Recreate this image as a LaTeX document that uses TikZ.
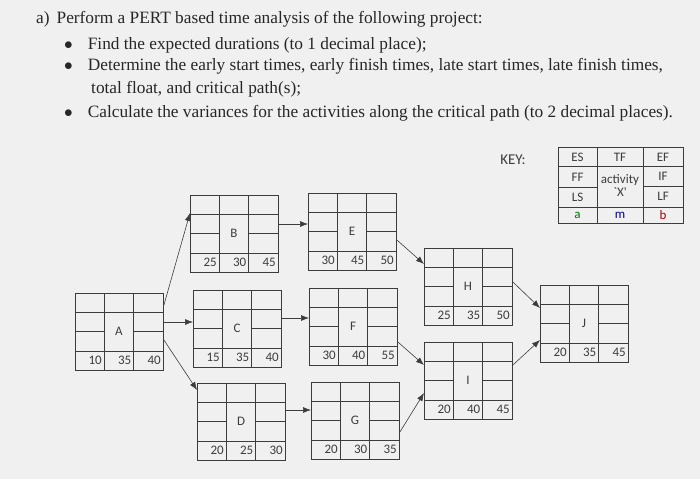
\documentclass[tikz,border=0pt]{standalone}
\usepackage{fontspec}
\setmainfont{Liberation Serif}
\newfontfamily\boxfont{Carlito}
\usetikzlibrary{arrows.meta}
\definecolor{ink}{RGB}{60,60,60}
\tikzset{
  actbox/.style={draw=ink,line width=0.9pt,rectangle,minimum width=88pt,minimum height=77pt,inner sep=0,anchor=north west},
  grid/.style={draw=ink,line width=0.9pt},
  num/.style={font=\boxfont\fontsize{13}{14}\selectfont,text=ink,anchor=east,inner sep=1pt},
  lbl/.style={font=\boxfont\fontsize{13}{14}\selectfont,text=ink,inner sep=0},
  conn/.style={draw=ink,line width=0.6pt,-{Latex[length=8pt,width=6pt]}},
  hdr/.style={anchor=west,font=\fontsize{17.3}{20}\selectfont,text=black!85,inner sep=0},
}
\newcommand\actbox[7]{%
  \node[actbox] (#1) at (#2,#3) {};
  \draw[grid] (#2,#3+19) -- (#2+88,#3+19);
  \draw[grid] (#2,#3+58) -- (#2+88,#3+58);
  \draw[grid] (#2,#3+38.5) -- (#2+29.3,#3+38.5);
  \draw[grid] (#2+58.7,#3+38.5) -- (#2+88,#3+38.5);
  \draw[grid] (#2+29.3,#3) -- (#2+29.3,#3+77);
  \draw[grid] (#2+58.7,#3) -- (#2+58.7,#3+77);
  \node[lbl] (#1l) at (#2+44,#3+38.5) {#4};
  \node[num] (#1a) at (#2+28,#3+67.5) {#5};
  \node[num] (#1m) at (#2+57.5,#3+67.5) {#6};
  \node[num] (#1b) at (#2+87,#3+67.5) {#7};
}
\begin{document}
\begin{tikzpicture}[x=1pt,y=-1pt]
\fill[black!6] (0,0) rectangle (700,479);
\useasboundingbox (0,0) rectangle (700,479);
% header
\node[hdr] (h0) at (36,19) {a)\hspace{7pt}Perform a PERT based time analysis of the following project:};
\node[hdr] (h1) at (64,45) {$\bullet$\hspace{15pt}Find the expected durations (to 1 decimal place);};
\node[hdr] (h2) at (64,66) {$\bullet$\hspace{15pt}Determine the early start times, early finish times, late start times, late finish times,};
\node[hdr] (h2b) at (91,89) {total float, and critical path(s);};
\node[hdr] (h3) at (64,113) {$\bullet$\hspace{15pt}Calculate the variances for the activities along the critical path (to 2 decimal places).};
% key
\node[font=\boxfont\fontsize{15}{17}\selectfont,text=ink] (key) at (513,160) {KEY:};
\node[draw=ink,line width=0.9pt,rectangle,minimum width=125pt,minimum height=76pt,inner sep=0,anchor=north west] (kb) at (558,147) {};
\draw[grid] (558,166) -- (683,166);
\draw[grid] (558,207) -- (683,207);
\draw[grid] (558,187) -- (597,187);
\draw[grid] (643,186) -- (683,186);
\draw[grid] (597,147) -- (597,223);
\draw[grid] (643,147) -- (643,223);
\tikzset{kt/.style={font=\boxfont\fontsize{13}{14}\selectfont,text=ink,inner sep=0}}
\node[kt] (kES) at (577.5,157) {ES};
\node[kt] (kTF) at (620,157) {TF};
\node[kt] (kEF) at (663,157) {EF};
\node[kt] (kFF) at (577.5,177) {FF};
\node[kt] (kLS) at (577.5,197) {LS};
\node[kt] (kIF) at (663,176) {IF};
\node[kt] (kLF) at (663,196) {LF};
\node[kt,align=center] (kX) at (620,186) {activity\\[-1pt]`X'};
\node[kt,text=green!45!black] (ka) at (577.5,215) {a};
\node[kt,text=blue!60!black] (km) at (620,215) {m};
\node[kt,text=red!65!black] (kb2) at (663,215) {b};
% activity boxes
\actbox{A}{75}{293}{A}{10}{35}{40}
\actbox{B}{190}{195}{B}{25}{30}{45}
\actbox{C}{193}{290}{C}{15}{35}{40}
\actbox{D}{197}{383}{D}{20}{25}{30}
\actbox{E}{308}{193}{E}{30}{45}{50}
\actbox{F}{309}{288}{F}{30}{40}{55}
\actbox{G}{311}{382}{G}{20}{30}{35}
\actbox{H}{424}{248}{H}{25}{35}{50}
\actbox{I}{424}{342}{I}{20}{40}{45}
\actbox{J}{540}{285}{J}{20}{35}{45}
% connectors
\draw[conn] ([yshift=-12pt]A.north east) -- ([yshift=-18pt]B.north west);
\draw[conn] ([yshift=-29pt]A.north east) -- ([yshift=-32pt]C.north west);
\draw[conn] ([yshift=-47pt]A.north east) -- ([yshift=-7pt]D.north west);
\draw[conn] ([yshift=-29pt]B.north east) -- ([yshift=-31pt]E.north west);
\draw[conn] ([yshift=-28pt]C.north east) -- ([yshift=-30pt]F.north west);
\draw[conn] ([yshift=-27pt]D.north east) -- ([yshift=-28pt]G.north west);
\draw[conn] ([yshift=-47pt]E.north east) -- ([yshift=-16pt]H.north west);
\draw[conn] ([yshift=-54pt]F.north east) -- ([yshift=-23pt]I.north west);
\draw[conn] ([yshift=-50pt]G.north east) -- ([yshift=-51pt]I.north west);
\draw[conn] ([yshift=-34pt]H.north east) -- ([yshift=-23pt]J.north west);
\draw[conn] ([yshift=-23pt]I.north east) -- ([yshift=-55pt]J.north west);
\end{tikzpicture}
\end{document}
